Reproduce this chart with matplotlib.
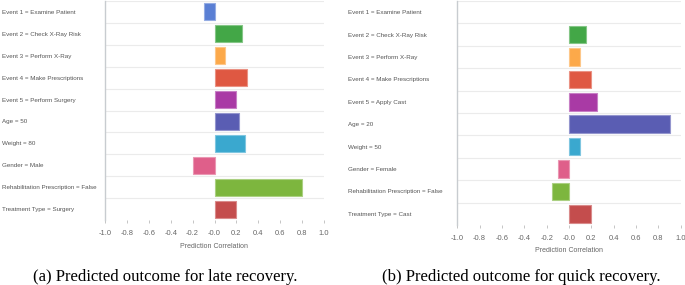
import matplotlib.pyplot as plt
import matplotlib.colors as mcolors
import numpy as np

# features shown on each panel (top to bottom)
labels_a = ["Event 1 = Examine Patient", "Event 2 = Check X-Ray Risk", "Event 3 = Perform X-Ray",
            "Event 4 = Make Prescriptions", "Event 5 = Perform Surgery", "Age = 50", "Weight = 80",
            "Gender = Male", "Rehabilitation Prescription = False", "Treatment Type = Surgery"]
values_a = [-0.10, 0.25, 0.10, 0.30, 0.20, 0.22, 0.28, -0.20, 0.80, 0.20]

labels_b = ["Event 1 = Examine Patient", "Event 2 = Check X-Ray Risk", "Event 3 = Perform X-Ray",
            "Event 4 = Make Prescriptions", "Event 5 = Apply Cast", "Age = 20", "Weight = 50",
            "Gender = Female", "Rehabilitation Prescription = False", "Treatment Type = Cast"]
values_b = [0.0, 0.15, 0.10, 0.20, 0.25, 0.90, 0.10, -0.10, -0.15, 0.20]

colors = ["#5a7fd4", "#43a747", "#fca94a", "#df5842", "#a93aa5",
          "#5a5db3", "#3aa8cf", "#df5f8a", "#7db63e", "#c44d4d"]

ticks = [-1.0, -0.8, -0.6, -0.4, -0.2, 0.0, 0.2, 0.4, 0.6, 0.8, 1.0]
tick_labels = ["-1.0", "-0.8", "-0.6", "-0.4", "-0.2", "-0.0", "0.2", "0.4", "0.6", "0.8", "1.0"]

captions = ["(a) Predicted outcome for late recovery.", "(b) Predicted outcome for quick recovery."]

plt.rcParams['font.family'] = ['Liberation Sans', 'DejaVu Sans']

fig = plt.figure(figsize=(6.85, 2.85), dpi=100)


def lighten(c, amt=0.35):
    r, g, b = mcolors.to_rgb(c)
    return (r + (1 - r) * amt, g + (1 - g) * amt, b + (1 - b) * amt)


def panel(rect, labels, values, pad, caption, cap_x, xl_x, xl_y):
    ax = fig.add_axes(rect)
    y = np.arange(len(labels))
    ax.barh(y, values, height=0.78, color=colors,
            edgecolor=[lighten(c) for c in colors],
            linewidth=[0.8 if v != 0 else 0 for v in values], zorder=3)
    for b in np.arange(-0.5, len(labels) - 1, 1.0):
        ax.axhline(b, color="#ebebeb", lw=0.8, zorder=1)
    ax.set_ylim(len(labels) - 0.5, -0.5)
    ax.set_xlim(-1.0, 1.0)
    for s in ["top", "right", "bottom"]:
        ax.spines[s].set_visible(False)
    ax.spines["left"].set_color("#c8ccd0")
    ax.spines["left"].set_linewidth(1.0)
    ax.set_yticks(y)
    ax.set_yticklabels(labels, fontsize=4.5, color="#555555")
    for t in ax.get_yticklabels():
        t.set_ha("left")
    ax.tick_params(axis="y", length=0, pad=pad)
    ax.set_xticks(ticks)
    ax.set_xticklabels(tick_labels, fontsize=5.4, color="#666666")
    ax.tick_params(axis="x", length=2.5, width=0.6, color="#bbbbbb", pad=4.5)
    fig.text(xl_x, xl_y, "Prediction Correlation", fontsize=5, color="#666666",
             ha="center", va="center")
    fig.text(cap_x, 1 - 277 / 285, caption, fontsize=12, family="Liberation Serif",
             ha="center", va="center")
    return ax


panel([105 / 685, 65 / 285, 219 / 685, 219 / 285], labels_a, values_a, 74.5,
      captions[0], 165 / 685, 214 / 685, 1 - 247 / 285)
panel([457.3 / 685, 60 / 285, 223.4 / 685, 224 / 285], labels_b, values_b, 78.5,
      captions[1], 521 / 685, 568.7 / 685, 1 - 250 / 285)

fig.savefig("out.png", dpi=100)
